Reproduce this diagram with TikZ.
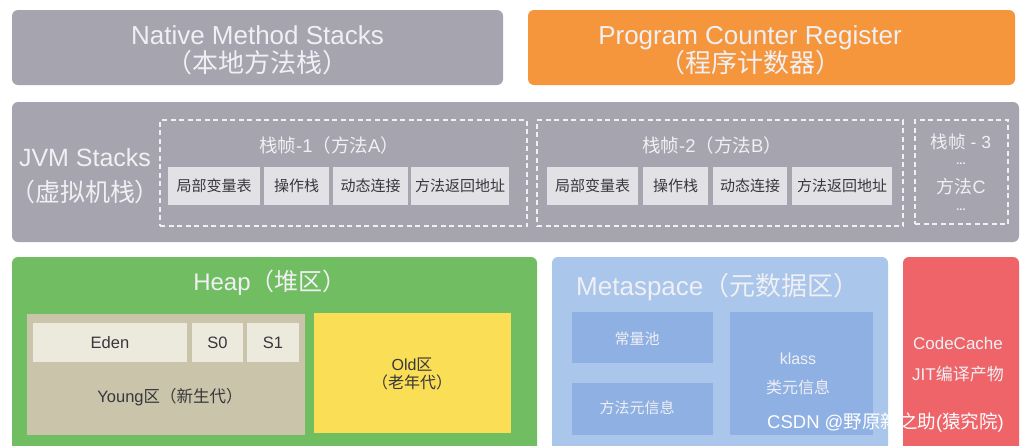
\documentclass[tikz,border=0pt]{standalone}
\usepackage{fontspec}
\setmainfont{Liberation Sans}
\newfontfamily\cjk{Noto Sans CJK SC}
\usetikzlibrary{fit}
\newcommand\zh[1]{{\cjk #1}}
\newcommand\fs[2]{\fontsize{#1}{#2}\selectfont}
\definecolor{graybox}{RGB}{165,164,175}
\definecolor{lighttxt}{RGB}{240,240,244}
\definecolor{celfill}{RGB}{226,226,230}
\definecolor{darktxt}{RGB}{55,55,60}
\definecolor{orangebox}{RGB}{245,150,60}
\definecolor{greenbox}{RGB}{113,190,98}
\definecolor{youngbox}{RGB}{202,196,170}
\definecolor{edenbox}{RGB}{236,233,221}
\definecolor{oldbox}{RGB}{250,222,85}
\definecolor{metabox}{RGB}{170,198,235}
\definecolor{metainner}{RGB}{142,176,226}
\definecolor{codebox}{RGB}{238,100,105}
\begin{document}
\begin{tikzpicture}[x=1pt,y=-1pt,
  area/.style={rounded corners=6pt, inner sep=0pt, outer sep=0pt, draw=none},
  flat/.style={inner sep=0pt, outer sep=0pt, draw=none},
  frame/.style={inner sep=0pt, outer sep=0pt, draw=lighttxt, line width=1.2pt, dash pattern=on 5pt off 3.5pt},
  cell/.style={flat, fill=celfill},
  ltext/.style={inner sep=0pt, text=lighttxt, align=center},
  dtext/.style={inner sep=0pt, text=darktxt, align=center},
]
\useasboundingbox (0,0) rectangle (1026,445);
\clip (0,0) rectangle (1026,445);
\fill[white] (0,0) rectangle (1026,445);

% top row
\node[area, fill=graybox, fit={(12,10) (503,85)}] (nms) {};
\node[ltext, font=\fs{26}{28}] (nmsT) at (257.5,50.5) {Native Method Stacks\\\zh{（本地方法栈）}};
\node[area, fill=orangebox, fit={(528,10) (1015,85)}] (pcr) {};
\node[ltext, font=\fs{26}{28}] (pcrT) at (750,50.5) {Program Counter Register\\\zh{（程序计数器）}};

% JVM stacks
\node[area, fill=graybox, fit={(12,102) (1019,242)}] (jvm) {};
\node[ltext, font=\fs{25}{32}] (jvmT) at (85,176.5) {JVM Stacks\\[3pt]\zh{（虚拟机栈）}};

\node[frame, fit={(160,120) (527,226)}] (f1) {};
\node[ltext, font=\fs{18.5}{18.5}] (f1T) at (329,145) {\zh{栈帧}-1\zh{（方法}A\zh{）}};
\node[cell, fit={(168,167) (260,205)}] (c11) {};
\node[cell, fit={(264,167) (329,205)}] (c12) {};
\node[cell, fit={(333,167) (408,205)}] (c13) {};
\node[cell, fit={(411,167) (509,205)}] (c14) {};
\node[dtext, font=\fs{15}{15}\cjk] at (c11) {局部变量表};
\node[dtext, font=\fs{15}{15}\cjk] at (c12) {操作栈};
\node[dtext, font=\fs{15}{15}\cjk] at (c13) {动态连接};
\node[dtext, font=\fs{15}{15}\cjk] at (c14) {方法返回地址};

\node[frame, fit={(537,120) (903,226)}] (f2) {};
\node[ltext, font=\fs{18.5}{18.5}] (f2T) at (712,145) {\zh{栈帧}-2\zh{（方法}B\zh{）}};
\node[cell, fit={(547,167) (638,205)}] (c21) {};
\node[cell, fit={(643,167) (708,205)}] (c22) {};
\node[cell, fit={(713,167) (787,205)}] (c23) {};
\node[cell, fit={(792,167) (892,205)}] (c24) {};
\node[dtext, font=\fs{15}{15}\cjk] at (c21) {局部变量表};
\node[dtext, font=\fs{15}{15}\cjk] at (c22) {操作栈};
\node[dtext, font=\fs{15}{15}\cjk] at (c23) {动态连接};
\node[dtext, font=\fs{15}{15}\cjk] at (c24) {方法返回地址};

\node[frame, fit={(915,120) (1008,224)}] (f3) {};
\node[ltext, font=\fs{17.5}{17.5}] (f3a) at (961,142) {\zh{栈帧} - 3};
\node[ltext, font=\fs{11}{11}\bfseries] (f3b) at (961,164) {...};
\node[ltext, font=\fs{18}{18}] (f3c) at (961,187) {\zh{方法}C};
\node[ltext, font=\fs{11}{11}\bfseries] (f3d) at (961,210) {...};

% Heap
\node[area, fill=greenbox, fit={(12,257) (537,460)}] (heap) {};
\node[ltext, font=\fs{24}{24}] (heapT) at (270,283) {Heap\zh{（堆区）}};
\node[flat, fill=youngbox, fit={(27,314) (305,435)}] (young) {};
\node[flat, fill=edenbox, fit={(33,323) (187,362)}] (eden) {};
\node[flat, fill=edenbox, fit={(192,323) (243,362)}] (s0) {};
\node[flat, fill=edenbox, fit={(247,323) (299,362)}] (s1) {};
\node[dtext, font=\fs{16.5}{16.5}] at (eden) {Eden};
\node[dtext, font=\fs{16.5}{16.5}] at (s0) {S0};
\node[dtext, font=\fs{16.5}{16.5}] at (s1) {S1};
\node[dtext, font=\fs{16.5}{16.5}] (youngT) at (170,397) {Young\zh{区（新生代）}};
\node[flat, fill=oldbox, fit={(314,313) (511,433)}] (old) {};
\node[dtext, font=\fs{16}{18}] (oldT) at (412,374) {Old\zh{区}\\\zh{（老年代）}};

% Metaspace
\node[area, fill=metabox, fit={(552,257) (888,460)}] (meta) {};
\node[ltext, font=\fs{26}{26}, anchor=west] (metaT) at (576,287) {Metaspace\zh{（元数据区）}};
\node[flat, fill=metainner, fit={(572,312) (713,363)}] (pool) {};
\node[flat, fill=metainner, fit={(572,383) (713,435)}] (minfo) {};
\node[flat, fill=metainner, fit={(730,312) (873,435)}] (klass) {};
\node[ltext, font=\fs{15}{15}\cjk] at (637,339) {常量池};
\node[ltext, font=\fs{15}{15}\cjk] at (637,408) {方法元信息};
\node[ltext, font=\fs{16}{16}] (klassT) at (798,374) {klass\\[13pt]\zh{类元信息}};

% CodeCache
\node[area, fill=codebox, fit={(903,257) (1019,460)}] (code) {};
\node[ltext, font=\fs{17}{17}] (codeT) at (958,360) {CodeCache\\[14pt]JIT\zh{编译产物}};

% watermark
\node[ltext, font=\fs{18.5}{18.5}, anchor=west, text=white] (wm) at (767,423) {CSDN @\zh{野原新之助}(\zh{猿究院})};
\end{tikzpicture}
\end{document}
